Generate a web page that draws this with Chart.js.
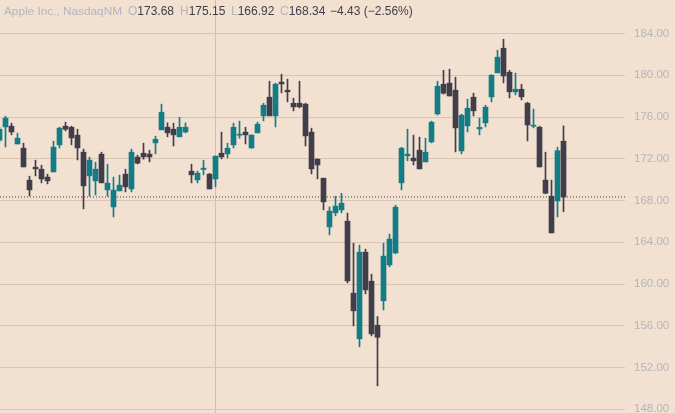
<!DOCTYPE html>
<html>
<head>
<meta charset="utf-8">
<script src="https://cdn.jsdelivr.net/npm/chart.js@4/dist/chart.umd.min.js"></script>
<style>
html,body{margin:0;padding:0;background:#f2e0d0;}
#wrap{position:relative;width:675px;height:413px;overflow:hidden;background:#f2e0d0;}
#c{position:absolute;left:0;top:0;}
.hdr{position:absolute;top:0;font-family:"Liberation Sans",Arial,sans-serif;font-size:12px;line-height:22px;white-space:nowrap;color:#413e4c;}
.g{color:#b2b5be;}
#hName{font-size:11.8px;}
</style>
</head>
<body>
<div id="wrap">
<canvas id="c" width="675" height="413"></canvas>
<div class="hdr g" id="hName" style="left:4px"></div>
<div class="hdr" id="hO" style="left:128px"></div>
<div class="hdr" id="hH" style="left:180px"></div>
<div class="hdr" id="hL" style="left:231px"></div>
<div class="hdr" id="hC" style="left:280px"></div>
<div class="hdr" id="hChg" style="left:330px"></div>
</div>
<script>
const symbolName = "Apple Inc., NasdaqNM";
const opens = [173.78,175.05,175.12,173.42,173.01,169.95,171.19,171.00,170.24,170.74,
173.33,175.12,175.02,174.26,172.63,170.36,169.88,172.44,169.02,167.39,
168.92,170.52,169.11,172.15,172.53,172.44,173.52,174.77,175.02,174.83,
174.10,174.57,170.81,169.98,170.97,170.52,170.07,172.53,172.47,173.33,
174.26,174.55,173.04,174.48,176.11,177.90,176.11,179.34,178.57,177.32,
177.32,177.23,174.55,171.96,170.14,165.47,166.82,167.10,166.02,159.12,
154.75,163.05,160.27,156.05,158.39,161.83,162.98,169.69,172.28,172.06,
172.82,171.70,173.62,176.30,179.14,179.24,178.57,172.75,175.15,177.90,
174.86,175.44,177.93,180.23,182.59,180.29,178.41,178.66,177.32,175.12,
175.02,169.95,168.41,167.96,173.68];
const highs = [175.02,176.08,175.41,174.45,173.49,170.33,171.86,171.38,170.52,173.68,
175.02,175.50,175.12,174.83,172.92,172.15,171.67,172.63,171.48,170.24,
170.43,171.00,172.92,172.34,173.49,172.82,174.16,177.23,175.44,175.41,
175.98,175.44,171.48,170.81,171.86,170.60,172.25,174.55,173.49,175.41,
175.60,175.02,174.30,175.50,177.32,179.43,179.24,180.10,179.62,177.80,
179.43,177.32,174.93,172.00,170.14,167.39,168.41,168.69,166.79,163.91,
163.72,163.34,160.94,156.88,163.91,164.78,167.55,173.10,174.83,174.26,
174.07,173.97,175.60,179.43,180.48,180.58,179.81,176.27,177.71,178.28,
175.89,177.13,180.05,182.40,183.45,180.48,180.20,179.14,177.42,176.75,
175.12,172.63,169.95,173.11,175.15];
const lows = [173.59,173.14,174.29,173.42,171.22,168.44,170.36,169.69,169.59,170.74,
173.04,174.67,173.33,171.89,167.20,168.41,168.54,169.69,168.41,166.43,
168.92,168.83,168.83,171.51,171.96,171.70,172.47,174.77,174.10,173.23,
174.10,174.48,169.69,169.69,170.46,169.11,169.31,171.99,172.08,173.04,
173.97,173.42,173.00,174.48,175.63,176.11,175.05,178.31,177.45,176.59,
176.87,173.23,170.55,170.07,167.10,164.71,166.53,166.82,160.11,155.99,
153.98,159.06,155.03,150.24,157.52,161.64,162.89,169.02,171.80,171.41,
171.03,171.70,173.52,176.20,178.19,178.00,172.66,172.47,174.57,176.11,
174.29,175.05,177.45,180.23,179.27,177.83,178.12,177.64,173.71,174.96,
171.20,168.64,164.90,166.43,166.92];
const closes = [174.83,175.89,174.57,173.97,171.22,169.02,171.03,170.07,169.88,173.11,
174.93,174.83,174.00,173.04,169.40,171.86,171.00,169.69,169.66,168.99,
169.47,169.31,172.63,171.58,172.18,172.18,173.87,176.46,174.48,174.29,
175.02,175.02,170.46,170.62,171.10,169.11,172.25,172.18,173.01,175.02,
174.35,174.29,174.26,175.31,177.13,176.11,179.14,179.17,178.41,176.97,
176.97,174.19,171.03,171.41,167.87,166.98,167.46,167.74,160.30,157.43,
163.05,159.44,155.22,154.90,162.67,164.30,167.36,173.01,172.44,171.80,
171.03,172.63,175.50,178.95,178.28,178.02,174.96,176.17,176.84,176.59,
175.00,176.94,180.01,181.73,179.94,178.41,178.66,177.93,175.24,175.22,
171.22,168.70,164.90,172.77,168.34];
const yTicks = [148,152,156,160,164,168,172,176,180,184];
const crosshairIndex = 36;

const UP = '#137d87', DOWN = '#413e4c';
const n = closes.length;
const last = n - 1;
const xMin = 0.0833, xMax = 104.25;
const yMin = 147.641, yMax = 187.21;

// header
const fmt = v => v.toFixed(2).replace('-', '\u2212');
const chg = closes[last] - closes[last - 1];
const pct = chg / closes[last - 1] * 100;
document.getElementById('hName').textContent = symbolName;
const setH = (id, letter, val) => {
  document.getElementById(id).innerHTML = '<span class="g">' + letter + '</span>' + fmt(val);
};
setH('hO', 'O', opens[last]);
setH('hH', 'H', highs[last]);
setH('hL', 'L', lows[last]);
setH('hC', 'C', closes[last]);
document.getElementById('hChg').textContent = fmt(chg) + ' (' + fmt(pct) + '%)';

const colors = closes.map((c, i) => c >= opens[i] ? UP : DOWN);
const wickData = closes.map((c, i) => ({x: i, y: [lows[i], highs[i]]}));
const bodyData = closes.map((c, i) => ({x: i, y: [opens[i], c]}));

new Chart(document.getElementById('c'), {
  type: 'bar',
  data: {
    datasets: [
      {
        type: 'line',
        data: [{x: crosshairIndex, y: yMin}, {x: crosshairIndex, y: yMax}],
        borderColor: '#d3bfad',
        borderWidth: 1,
        pointRadius: 0,
        order: 10
      },
      {
        type: 'line',
        data: [{x: xMin, y: closes[last]}, {x: xMax, y: closes[last]}],
        borderColor: '#3f3c48',
        borderWidth: 1,
        borderDash: [1, 2],
        pointRadius: 0,
        order: 5
      },
      {
        data: wickData,
        backgroundColor: colors,
        borderWidth: 0,
        barThickness: 1,
        grouped: false,
        minBarLength: 1,
        order: 2
      },
      {
        data: bodyData,
        backgroundColor: colors,
        borderWidth: 0,
        barThickness: 5,
        grouped: false,
        minBarLength: 1,
        order: 1
      }
    ]
  },
  options: {
    responsive: false,
    animation: false,
    events: [],
    layout: {padding: 0},
    plugins: {legend: {display: false}, tooltip: {enabled: false}, title: {display: false}},
    scales: {
      x: {
        type: 'linear',
        min: xMin,
        max: xMax,
        offset: false,
        display: false
      },
      y: {
        position: 'right',
        min: yMin,
        max: yMax,
        afterBuildTicks: s => { s.ticks = yTicks.map(v => ({value: v})); },
        afterFit: s => { s.width = 50; s.paddingTop = 0; s.paddingBottom = 0; },
        grid: {color: '#d8c5b3', lineWidth: 1, drawTicks: false},
        border: {display: false},
        ticks: {
          padding: 9,
          color: '#b2b5be',
          font: {family: '"Liberation Sans", Arial, sans-serif', size: 11.5},
          callback: v => Number(v).toFixed(2)
        }
      }
    }
  }
});
</script>
</body>
</html>
